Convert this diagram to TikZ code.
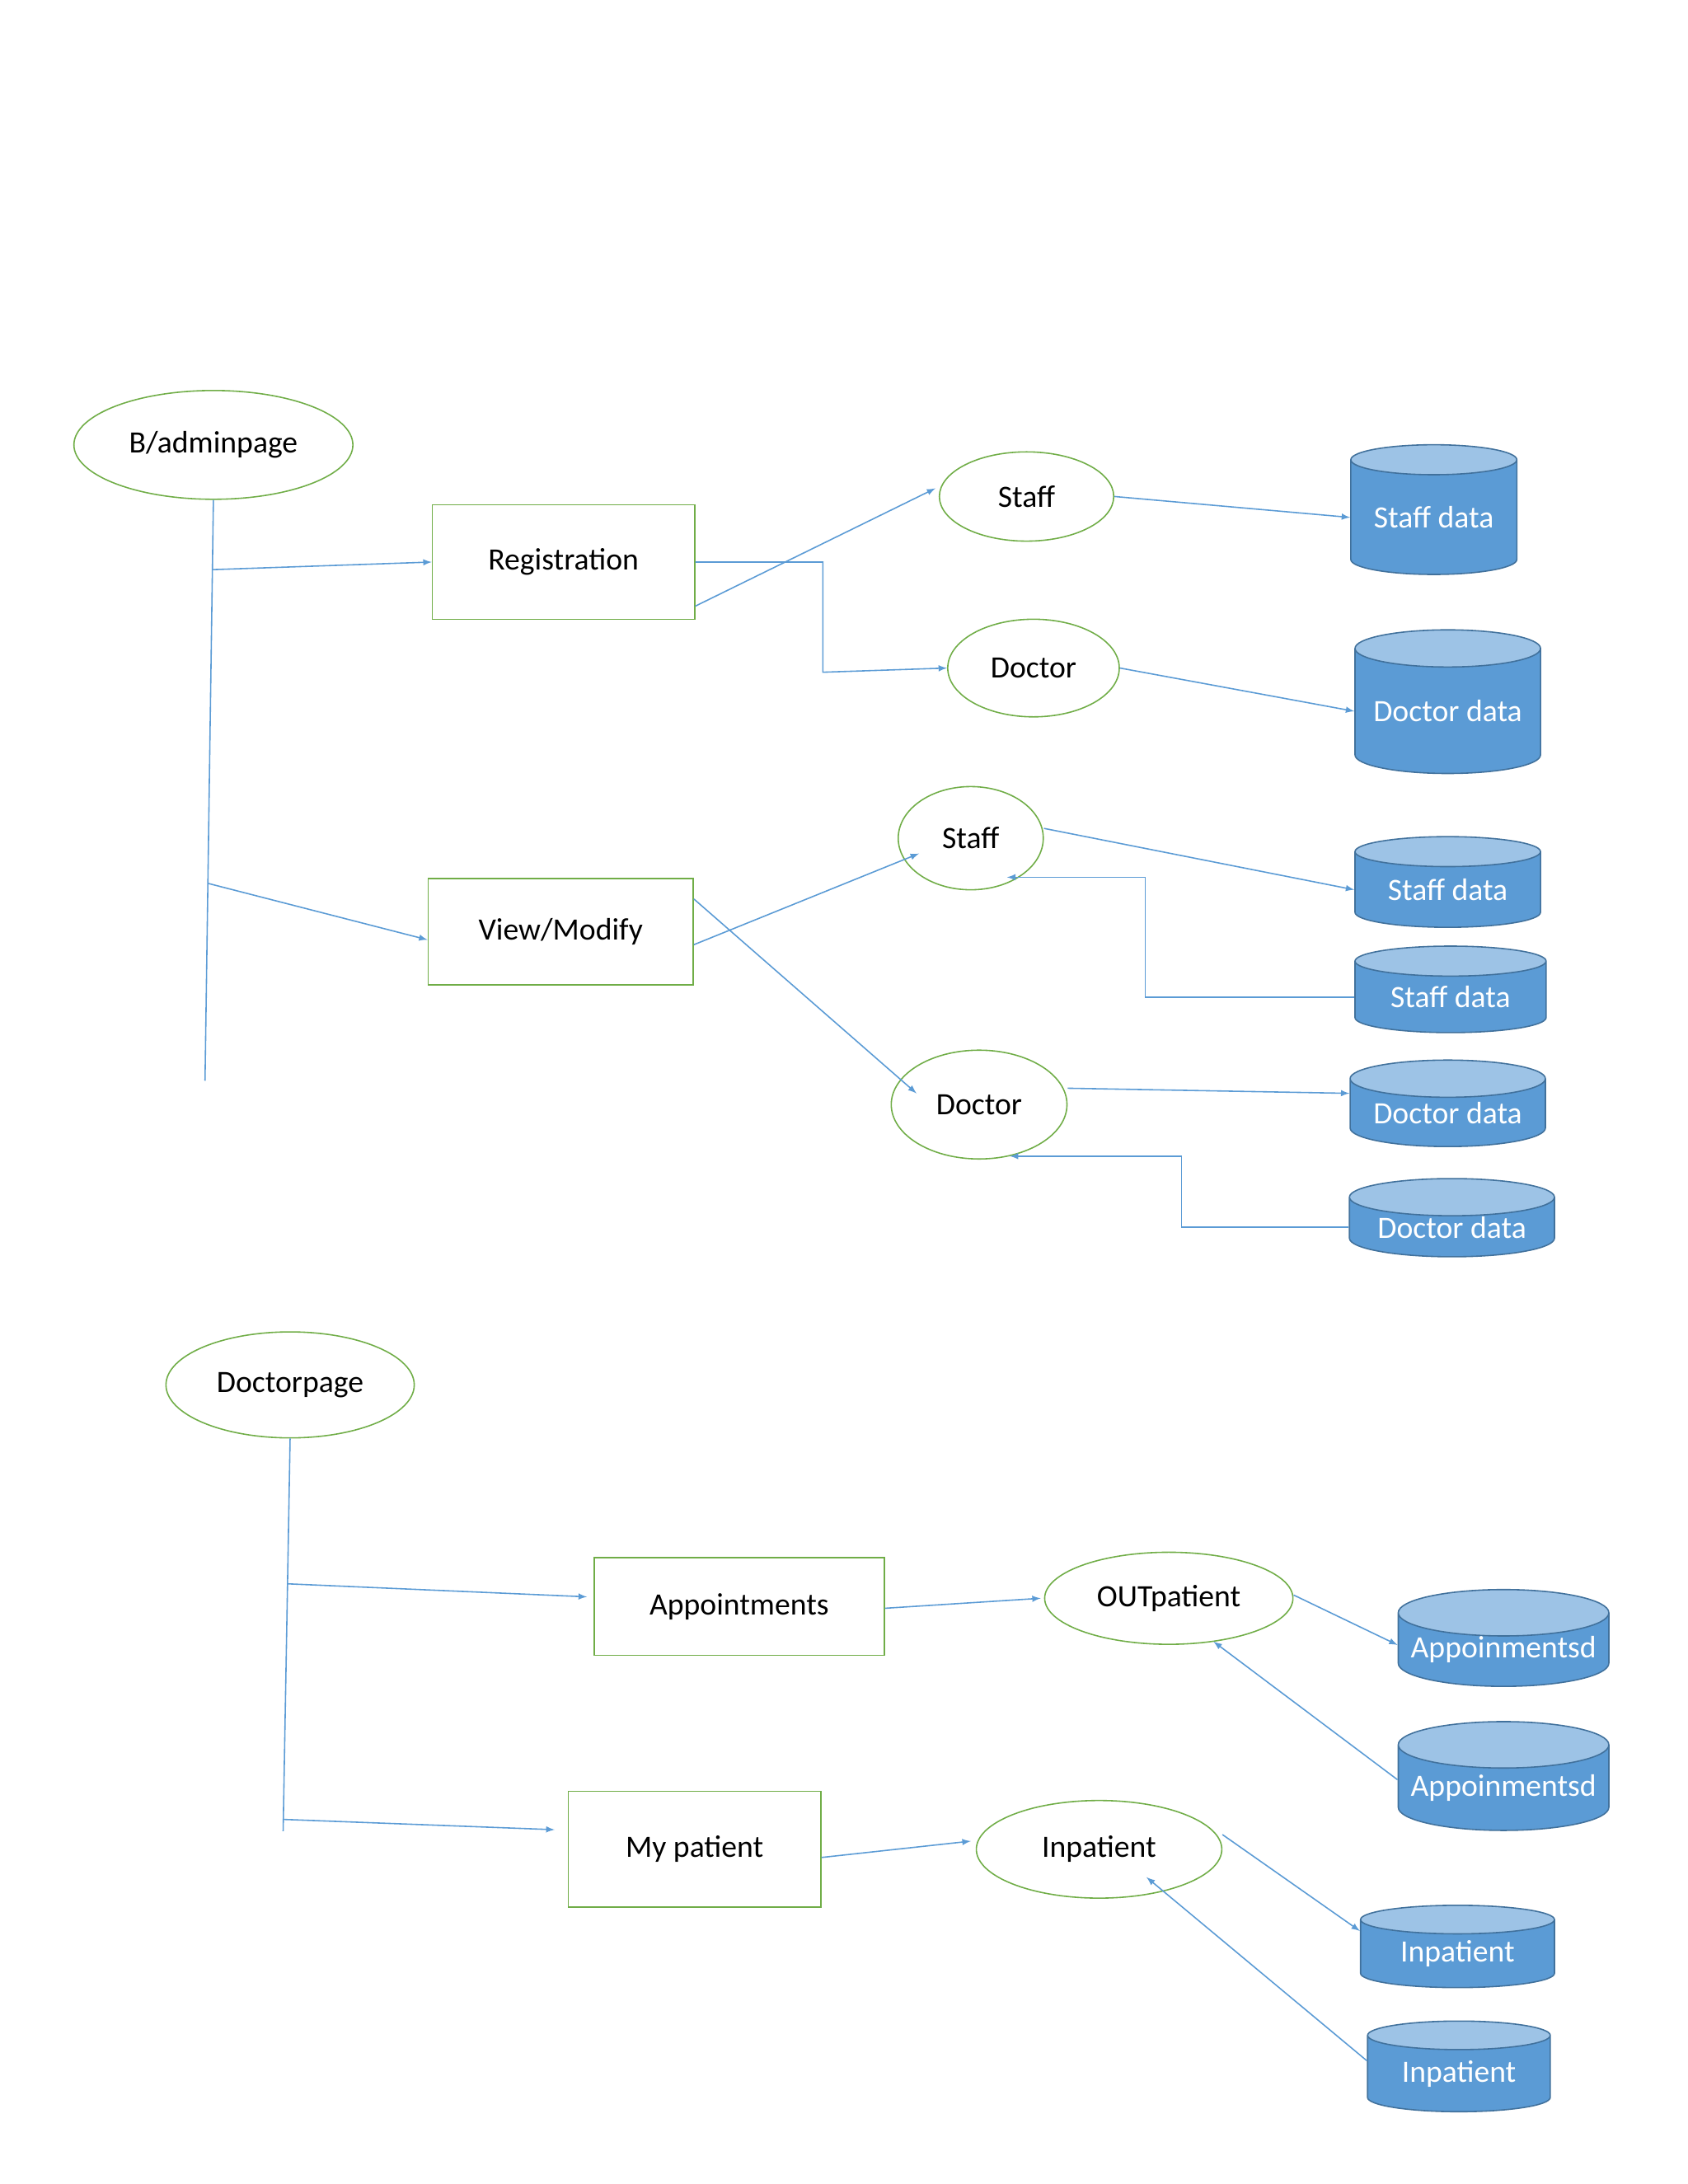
\documentclass[tikz,border=0pt]{standalone}
\usepackage{fontspec}
\setmainfont{Carlito}
\usetikzlibrary{positioning,calc,shapes.geometric,arrows}
\definecolor{flowblue}{HTML}{5B9BD5}
\definecolor{darkblue}{HTML}{41719C}
\definecolor{lightblue}{HTML}{9DC3E6}
\definecolor{boxgreen}{HTML}{70AD47}
\tikzset{%
  sz/.style 2 args={minimum width=#1*0.03cm, minimum height=#2*0.03cm},
  process/.style={ellipse, draw=boxgreen, thick, inner sep=0pt},
  page/.style={rectangle, draw=boxgreen, thick, inner sep=0pt},
  store/.style={cylinder, shape border rotate=90, aspect=0.25, draw=darkblue, thick,
    cylinder uses custom fill, cylinder body fill=flowblue, cylinder end fill=lightblue,
    text=white, inner sep=0pt},
  flow/.style={draw=flowblue, thick, -latex},
}
\begin{document}
\begin{tikzpicture}[x=0.03cm, y=-0.03cm, font=\fontsize{19}{22}\selectfont]
        \useasboundingbox (0,0) rectangle (1210,1566);
        % admin page
        \node [process, sz={200}{78}] (admin) at (153,319) {B/adminpage};
        \node [page, sz={188}{82}] (reg) at (404,403) {Registration};
        \node [page, sz={190}{76}] (view) at (402,668) {View/Modify};
        \node [process, sz={125}{64}] (staffA) at (736,356) {Staff};
        \node [process, sz={123}{70}] (docA) at (741,479) {Doctor};
        \node [process, sz={104}{74}] (staffB) at (696,601) {Staff};
        \node [process, sz={126}{78}] (docB) at (702,792) {Doctor};
        \foreach \n/\x/\y/\w/\h/\l in {sd1/1028/371/119/93/Staff data, dd1/1038/510/133/103/Doctor data,
            sd2/1038/638/133/65/Staff data, sd3/1040/715/137/62/Staff data,
            dd2/1038/798/140/62/Doctor data, dd3/1041/880/147/53/Doctor data}
          \node [store, sz={\w}{\h}] (\n) at (\x,\y) {\l};
        % doctor page
        \node [process, sz={178}{76}] (docpage) at (208,993) {Doctorpage};
        \node [page, sz={208}{70}] (appt) at (530,1152) {Appointments};
        \node [page, sz={181}{83}] (mypat) at (498,1326) {My patient};
        \node [process, sz={178}{66}] (outpat) at (838,1146) {OUTpatient};
        \node [process, sz={176}{70}] (inpat) at (788,1326) {Inpatient};
        \foreach \n/\x/\y/\w/\h/\l in {ap1/1078/1183/151/63/Appoinmentsd, ap2/1078/1282/151/78/Appoinmentsd,
            in1/1045/1401/139/59/Inpatient, in2/1046/1487/131/65/Inpatient}
          \node [store, sz={\w}{\h}] (\n) at (\x,\y) {\l};

        \coordinate (adminEnd) at (147,775);
        \coordinate (docEnd) at (203,1313);
        \draw [flowblue, thick] (admin.south) -- (adminEnd);
        \draw [flowblue, thick] (docpage.south) -- (docEnd);
        \draw [flow] ($(admin.south)!0.12!(adminEnd)$) -- (reg.west);
        \draw [flow] ($(admin.south)!0.66!(adminEnd)$) -- ([yshift=-5]view.west);
        \draw [flow] ($(docpage.south)!0.37!(docEnd)$) -- ([xshift=-4,yshift=6]appt.west);
        \draw [flow] ($(docpage.south)!0.97!(docEnd)$) -- ([xshift=-8,yshift=12]mypat.west);

        \draw [flow] ([yshift=-27]reg.east) -- ([xshift=-2,yshift=5]staffA.west);
        \draw [flow] (reg.east) -| (590,482) -- (docA.west);
        \draw [flow] (staffA.east) -- (sd1.west);
        \draw [flow] (docA.east) -- (dd1.west);
        \draw [flow] ([yshift=-8]view.east) -- (staffB.south west |- 0,612);
        \draw [flow] ([yshift=20]view.east) -- (docB.north west |- 0,784);
        \draw [flow] ([yshift=6]staffB.east) -- (sd2.west);
        \draw [flow] (sd3.west) -| (821,629) -- (722,629);
        \draw [flow] ([yshift=10]docB.east) -- ([yshift=12]dd2.west);
        \draw [flow] (dd3.west) -| (847,829) -- (724,829);

        \draw [flow] ([yshift=-1]appt.east) -- ([xshift=-2]outpat.west);
        \draw [flow] ([yshift=2]outpat.east) -- ([yshift=3]ap1.west);
        \draw [flow] ([yshift=5]ap2.west) -- (870,1177);
        \draw [flow] ([yshift=-5]mypat.east) -- ([xshift=-3,yshift=5]inpat.west);
        \draw [flow] ([yshift=9]inpat.east) -- ([yshift=14]in1.west);
        \draw [flow] ([yshift=8]in2.west) -- (822,1346);
\end{tikzpicture}
\end{document}
